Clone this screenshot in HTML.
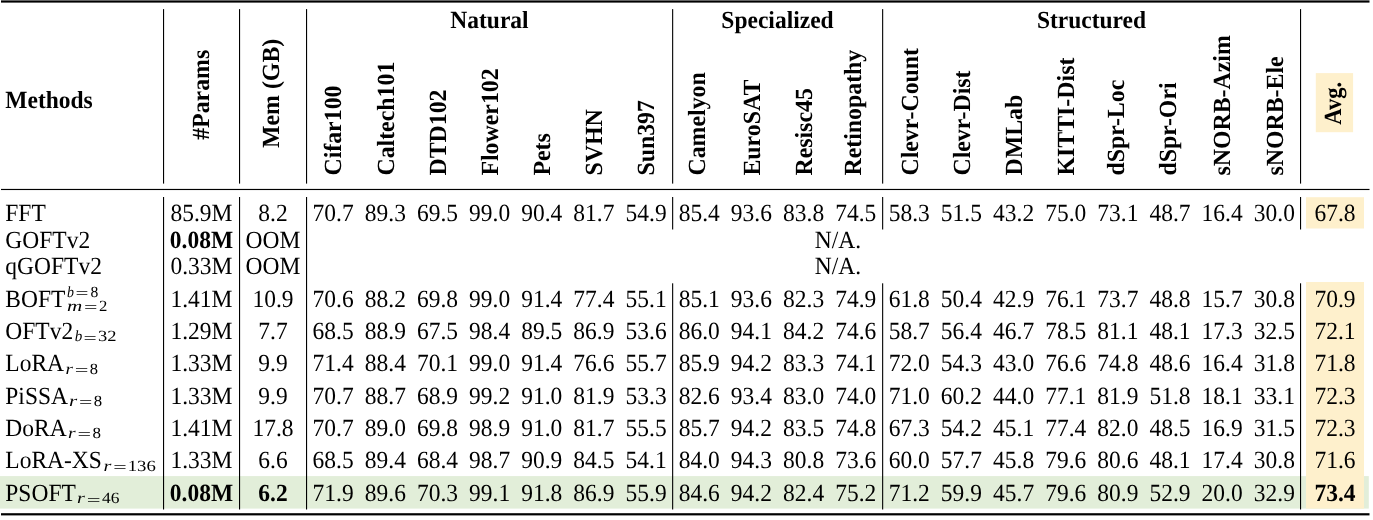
<!DOCTYPE html>
<html><head><meta charset="utf-8"><style>
html,body{margin:0;padding:0;background:#fff;width:1373px;height:520px;overflow:hidden}
svg{display:block}
text{font-family:"Liberation Serif","Times New Roman",serif;font-size:23.5px;fill:#000;text-rendering:geometricPrecision}
</style></head><body>
<svg width="1373" height="520" viewBox="0 0 1373 520">
<rect x="0" y="476.1" width="1368.8" height="32.5" fill="#e2eed9"/>
<rect x="1315.8" y="73.1" width="37.3" height="59.1" fill="#fef0cc"/>
<rect x="1306" y="197.2" width="58" height="31.3" fill="#fef0cc"/>
<rect x="1306" y="282" width="58" height="226.6" fill="#fef0cc"/>
<rect x="1" y="0.4" width="1368.5" height="2.2" fill="#000"/>
<rect x="1" y="188.9" width="1368.5" height="1.15" fill="#000"/>
<rect x="1" y="513.2" width="1368.5" height="2.2" fill="#000"/>
<rect x="163.0" y="9.1" width="1.1" height="174.5" fill="#000"/>
<rect x="239.0" y="9.1" width="1.1" height="174.5" fill="#000"/>
<rect x="306.0" y="9.1" width="1.1" height="174.5" fill="#000"/>
<rect x="672.1" y="9.1" width="1.1" height="174.5" fill="#000"/>
<rect x="882.1" y="9.1" width="1.1" height="174.5" fill="#000"/>
<rect x="1300.0" y="9.1" width="1.1" height="174.5" fill="#000"/>
<rect x="163.0" y="197.0" width="1.1" height="312.5" fill="#000"/>
<rect x="239.0" y="197.0" width="1.1" height="312.5" fill="#000"/>
<rect x="306.0" y="197.0" width="1.1" height="312.5" fill="#000"/>
<rect x="672.1" y="197.0" width="1.1" height="32.5" fill="#000"/>
<rect x="672.1" y="283.3" width="1.1" height="226.2" fill="#000"/>
<rect x="882.1" y="197.0" width="1.1" height="32.5" fill="#000"/>
<rect x="882.1" y="283.3" width="1.1" height="226.2" fill="#000"/>
<rect x="1300.0" y="197.0" width="1.1" height="32.5" fill="#000"/>
<rect x="1300.0" y="283.3" width="1.1" height="226.2" fill="#000"/>
<text x="5.3" y="108" font-weight="bold" transform="matrix(1 0 0 1.05 0 -5.400)">Methods</text>
<text x="489.5" y="27.7" text-anchor="middle" font-weight="bold" transform="matrix(1 0 0 1.05 0 -1.385)">Natural</text>
<text x="777.5" y="27.7" text-anchor="middle" font-weight="bold" transform="matrix(1 0 0 1.05 0 -1.385)">Specialized</text>
<text x="1091.5" y="27.7" text-anchor="middle" font-weight="bold" transform="matrix(1 0 0 1.05 0 -1.385)">Structured</text>
<text transform="translate(341.48,175.6) rotate(-90) scale(1.015,1.05)" font-weight="bold" text-anchor="start">Cifar100</text>
<text transform="translate(393.63,175.6) rotate(-90) scale(1.015,1.05)" font-weight="bold" text-anchor="start">Caltech101</text>
<text transform="translate(445.78,175.6) rotate(-90) scale(1.015,1.05)" font-weight="bold" text-anchor="start">DTD102</text>
<text transform="translate(497.93,175.6) rotate(-90) scale(1.015,1.05)" font-weight="bold" text-anchor="start">Flower102</text>
<text transform="translate(550.08,175.6) rotate(-90) scale(1.015,1.05)" font-weight="bold" text-anchor="start">Pets</text>
<text transform="translate(602.23,175.6) rotate(-90) scale(1.015,1.05)" font-weight="bold" text-anchor="start">SVHN</text>
<text transform="translate(654.38,175.6) rotate(-90) scale(1.015,1.05)" font-weight="bold" text-anchor="start">Sun397</text>
<text transform="translate(705.03,175.6) rotate(-90) scale(1.015,1.05)" font-weight="bold" text-anchor="start">Camelyon</text>
<text transform="translate(759.73,175.6) rotate(-90) scale(1.015,1.05)" font-weight="bold" text-anchor="start">EuroSAT</text>
<text transform="translate(811.88,175.6) rotate(-90) scale(1.015,1.05)" font-weight="bold" text-anchor="start">Resisc45</text>
<text transform="translate(861.48,175.6) rotate(-90) scale(1.015,1.05)" font-weight="bold" text-anchor="start">Retinopathy</text>
<text transform="translate(917.58,175.6) rotate(-90) scale(1.015,1.05)" font-weight="bold" text-anchor="start">Clevr-Count</text>
<text transform="translate(969.73,175.6) rotate(-90) scale(1.015,1.05)" font-weight="bold" text-anchor="start">Clevr-Dist</text>
<text transform="translate(1021.88,175.6) rotate(-90) scale(1.015,1.05)" font-weight="bold" text-anchor="start">DMLab</text>
<text transform="translate(1074.03,175.6) rotate(-90) scale(1.015,1.05)" font-weight="bold" text-anchor="start">KITTI-Dist</text>
<text transform="translate(1123.63,175.6) rotate(-90) scale(1.015,1.05)" font-weight="bold" text-anchor="start">dSpr-Loc</text>
<text transform="translate(1175.78,175.6) rotate(-90) scale(1.015,1.05)" font-weight="bold" text-anchor="start">dSpr-Ori</text>
<text transform="translate(1230.48,175.6) rotate(-90) scale(1.015,1.05)" font-weight="bold" text-anchor="start">sNORB-Azim</text>
<text transform="translate(1282.63,175.6) rotate(-90) scale(1.015,1.05)" font-weight="bold" text-anchor="start">sNORB-Ele</text>
<text transform="translate(209.41,94.8) rotate(-90) scale(1.015,1.05)" font-weight="bold" text-anchor="middle">#Params</text>
<text transform="translate(278.76,93.4) rotate(-90) scale(1.015,1.05)" font-weight="bold" text-anchor="middle">Mem (GB)</text>
<text transform="translate(1340.59,103.3) rotate(-90) scale(0.958,1.05)" font-weight="bold" text-anchor="middle">Avg.</text>
<text x="5.3" y="221.4" transform="matrix(1 0 0 1.05 0 -11.070)">FFT</text>
<text x="201.5" y="221.4" text-anchor="middle" transform="matrix(1 0 0 1.05 0 -11.070)">85.9M</text>
<text x="273" y="221.4" text-anchor="middle" transform="matrix(1 0 0 1.05 0 -11.070)">8.2</text>
<text x="333.175" y="221.4" text-anchor="middle" transform="matrix(1 0 0 1.05 0 -11.070)">70.7</text>
<text x="385.32500000000005" y="221.4" text-anchor="middle" transform="matrix(1 0 0 1.05 0 -11.070)">89.3</text>
<text x="437.475" y="221.4" text-anchor="middle" transform="matrix(1 0 0 1.05 0 -11.070)">69.5</text>
<text x="489.625" y="221.4" text-anchor="middle" transform="matrix(1 0 0 1.05 0 -11.070)">99.0</text>
<text x="541.775" y="221.4" text-anchor="middle" transform="matrix(1 0 0 1.05 0 -11.070)">90.4</text>
<text x="593.925" y="221.4" text-anchor="middle" transform="matrix(1 0 0 1.05 0 -11.070)">81.7</text>
<text x="646.075" y="221.4" text-anchor="middle" transform="matrix(1 0 0 1.05 0 -11.070)">54.9</text>
<text x="699.2750000000001" y="221.4" text-anchor="middle" transform="matrix(1 0 0 1.05 0 -11.070)">85.4</text>
<text x="751.4250000000001" y="221.4" text-anchor="middle" transform="matrix(1 0 0 1.05 0 -11.070)">93.6</text>
<text x="803.575" y="221.4" text-anchor="middle" transform="matrix(1 0 0 1.05 0 -11.070)">83.8</text>
<text x="855.725" y="221.4" text-anchor="middle" transform="matrix(1 0 0 1.05 0 -11.070)">74.5</text>
<text x="909.2750000000001" y="221.4" text-anchor="middle" transform="matrix(1 0 0 1.05 0 -11.070)">58.3</text>
<text x="961.4250000000001" y="221.4" text-anchor="middle" transform="matrix(1 0 0 1.05 0 -11.070)">51.5</text>
<text x="1013.575" y="221.4" text-anchor="middle" transform="matrix(1 0 0 1.05 0 -11.070)">43.2</text>
<text x="1065.7250000000001" y="221.4" text-anchor="middle" transform="matrix(1 0 0 1.05 0 -11.070)">75.0</text>
<text x="1117.875" y="221.4" text-anchor="middle" transform="matrix(1 0 0 1.05 0 -11.070)">73.1</text>
<text x="1170.025" y="221.4" text-anchor="middle" transform="matrix(1 0 0 1.05 0 -11.070)">48.7</text>
<text x="1222.175" y="221.4" text-anchor="middle" transform="matrix(1 0 0 1.05 0 -11.070)">16.4</text>
<text x="1274.325" y="221.4" text-anchor="middle" transform="matrix(1 0 0 1.05 0 -11.070)">30.0</text>
<text x="1335.0" y="221.4" text-anchor="middle" transform="matrix(1 0 0 1.05 0 -11.070)">67.8</text>
<text x="5.3" y="248.2" transform="matrix(1 0 0 1.05 0 -12.410)">GOFTv2</text>
<text x="201.5" y="248.2" text-anchor="middle" font-weight="bold" transform="matrix(1 0 0 1.05 0 -12.410)">0.08M</text>
<text x="273" y="248.2" text-anchor="middle" transform="matrix(1 0 0 1.05 0 -12.410)">OOM</text>
<text x="838" y="248.2" text-anchor="middle" transform="matrix(1 0 0 1.05 0 -12.410)">N/A.</text>
<text x="5.3" y="274.3" transform="matrix(1 0 0 1.05 0 -13.715)">qGOFTv2</text>
<text x="201.5" y="274.3" text-anchor="middle" transform="matrix(1 0 0 1.05 0 -13.715)">0.33M</text>
<text x="273" y="274.3" text-anchor="middle" transform="matrix(1 0 0 1.05 0 -13.715)">OOM</text>
<text x="838" y="274.3" text-anchor="middle" transform="matrix(1 0 0 1.05 0 -13.715)">N/A.</text>
<text x="5.3" y="306.8" transform="matrix(1 0 0 1.05 0 -15.340)">BOFT</text>
<text x="66.99" y="297.0" textLength="6.93" lengthAdjust="spacingAndGlyphs" style="font-size:16.5px;font-style:italic" transform="matrix(1 0 0 0.945 0 16.335)">b</text>
<text x="75.55" y="297.8" textLength="12.97" lengthAdjust="spacingAndGlyphs" style="font-size:16.5px" transform="matrix(1 0 0 0.945 0 16.379)">=</text>
<text x="90.41" y="297.0" textLength="7.79" lengthAdjust="spacingAndGlyphs" style="font-size:16.5px" transform="matrix(1 0 0 0.945 0 16.335)">8</text>
<text x="67.04" y="311.0" textLength="15.25" lengthAdjust="spacingAndGlyphs" style="font-size:16.5px;font-style:italic" transform="matrix(1 0 0 0.945 0 17.105)">m</text>
<text x="84.01" y="311.8" textLength="13.45" lengthAdjust="spacingAndGlyphs" style="font-size:16.5px" transform="matrix(1 0 0 0.945 0 17.149)">=</text>
<text x="99.07" y="311.0" textLength="8.36" lengthAdjust="spacingAndGlyphs" style="font-size:16.5px" transform="matrix(1 0 0 0.945 0 17.105)">2</text>
<text x="201.5" y="306.8" text-anchor="middle" transform="matrix(1 0 0 1.05 0 -15.340)">1.41M</text>
<text x="273" y="306.8" text-anchor="middle" transform="matrix(1 0 0 1.05 0 -15.340)">10.9</text>
<text x="333.175" y="306.8" text-anchor="middle" transform="matrix(1 0 0 1.05 0 -15.340)">70.6</text>
<text x="385.32500000000005" y="306.8" text-anchor="middle" transform="matrix(1 0 0 1.05 0 -15.340)">88.2</text>
<text x="437.475" y="306.8" text-anchor="middle" transform="matrix(1 0 0 1.05 0 -15.340)">69.8</text>
<text x="489.625" y="306.8" text-anchor="middle" transform="matrix(1 0 0 1.05 0 -15.340)">99.0</text>
<text x="541.775" y="306.8" text-anchor="middle" transform="matrix(1 0 0 1.05 0 -15.340)">91.4</text>
<text x="593.925" y="306.8" text-anchor="middle" transform="matrix(1 0 0 1.05 0 -15.340)">77.4</text>
<text x="646.075" y="306.8" text-anchor="middle" transform="matrix(1 0 0 1.05 0 -15.340)">55.1</text>
<text x="699.2750000000001" y="306.8" text-anchor="middle" transform="matrix(1 0 0 1.05 0 -15.340)">85.1</text>
<text x="751.4250000000001" y="306.8" text-anchor="middle" transform="matrix(1 0 0 1.05 0 -15.340)">93.6</text>
<text x="803.575" y="306.8" text-anchor="middle" transform="matrix(1 0 0 1.05 0 -15.340)">82.3</text>
<text x="855.725" y="306.8" text-anchor="middle" transform="matrix(1 0 0 1.05 0 -15.340)">74.9</text>
<text x="909.2750000000001" y="306.8" text-anchor="middle" transform="matrix(1 0 0 1.05 0 -15.340)">61.8</text>
<text x="961.4250000000001" y="306.8" text-anchor="middle" transform="matrix(1 0 0 1.05 0 -15.340)">50.4</text>
<text x="1013.575" y="306.8" text-anchor="middle" transform="matrix(1 0 0 1.05 0 -15.340)">42.9</text>
<text x="1065.7250000000001" y="306.8" text-anchor="middle" transform="matrix(1 0 0 1.05 0 -15.340)">76.1</text>
<text x="1117.875" y="306.8" text-anchor="middle" transform="matrix(1 0 0 1.05 0 -15.340)">73.7</text>
<text x="1170.025" y="306.8" text-anchor="middle" transform="matrix(1 0 0 1.05 0 -15.340)">48.8</text>
<text x="1222.175" y="306.8" text-anchor="middle" transform="matrix(1 0 0 1.05 0 -15.340)">15.7</text>
<text x="1274.325" y="306.8" text-anchor="middle" transform="matrix(1 0 0 1.05 0 -15.340)">30.8</text>
<text x="1335.0" y="306.8" text-anchor="middle" transform="matrix(1 0 0 1.05 0 -15.340)">70.9</text>
<text x="5.3" y="339.1" transform="matrix(1 0 0 1.05 0 -16.955)">OFTv2</text>
<text x="74.64" y="341.4" textLength="7.51" lengthAdjust="spacingAndGlyphs" style="font-size:16.5px;font-style:italic" transform="matrix(1 0 0 0.945 0 18.777)">b</text>
<text x="83.53" y="342.6" textLength="13.21" lengthAdjust="spacingAndGlyphs" style="font-size:16.5px" transform="matrix(1 0 0 0.945 0 18.843)">=</text>
<text x="98.01" y="341.4" textLength="18.51" lengthAdjust="spacingAndGlyphs" style="font-size:16.5px" transform="matrix(1 0 0 0.945 0 18.777)">32</text>
<text x="201.5" y="339.1" text-anchor="middle" transform="matrix(1 0 0 1.05 0 -16.955)">1.29M</text>
<text x="273" y="339.1" text-anchor="middle" transform="matrix(1 0 0 1.05 0 -16.955)">7.7</text>
<text x="333.175" y="339.1" text-anchor="middle" transform="matrix(1 0 0 1.05 0 -16.955)">68.5</text>
<text x="385.32500000000005" y="339.1" text-anchor="middle" transform="matrix(1 0 0 1.05 0 -16.955)">88.9</text>
<text x="437.475" y="339.1" text-anchor="middle" transform="matrix(1 0 0 1.05 0 -16.955)">67.5</text>
<text x="489.625" y="339.1" text-anchor="middle" transform="matrix(1 0 0 1.05 0 -16.955)">98.4</text>
<text x="541.775" y="339.1" text-anchor="middle" transform="matrix(1 0 0 1.05 0 -16.955)">89.5</text>
<text x="593.925" y="339.1" text-anchor="middle" transform="matrix(1 0 0 1.05 0 -16.955)">86.9</text>
<text x="646.075" y="339.1" text-anchor="middle" transform="matrix(1 0 0 1.05 0 -16.955)">53.6</text>
<text x="699.2750000000001" y="339.1" text-anchor="middle" transform="matrix(1 0 0 1.05 0 -16.955)">86.0</text>
<text x="751.4250000000001" y="339.1" text-anchor="middle" transform="matrix(1 0 0 1.05 0 -16.955)">94.1</text>
<text x="803.575" y="339.1" text-anchor="middle" transform="matrix(1 0 0 1.05 0 -16.955)">84.2</text>
<text x="855.725" y="339.1" text-anchor="middle" transform="matrix(1 0 0 1.05 0 -16.955)">74.6</text>
<text x="909.2750000000001" y="339.1" text-anchor="middle" transform="matrix(1 0 0 1.05 0 -16.955)">58.7</text>
<text x="961.4250000000001" y="339.1" text-anchor="middle" transform="matrix(1 0 0 1.05 0 -16.955)">56.4</text>
<text x="1013.575" y="339.1" text-anchor="middle" transform="matrix(1 0 0 1.05 0 -16.955)">46.7</text>
<text x="1065.7250000000001" y="339.1" text-anchor="middle" transform="matrix(1 0 0 1.05 0 -16.955)">78.5</text>
<text x="1117.875" y="339.1" text-anchor="middle" transform="matrix(1 0 0 1.05 0 -16.955)">81.1</text>
<text x="1170.025" y="339.1" text-anchor="middle" transform="matrix(1 0 0 1.05 0 -16.955)">48.1</text>
<text x="1222.175" y="339.1" text-anchor="middle" transform="matrix(1 0 0 1.05 0 -16.955)">17.3</text>
<text x="1274.325" y="339.1" text-anchor="middle" transform="matrix(1 0 0 1.05 0 -16.955)">32.5</text>
<text x="1335.0" y="339.1" text-anchor="middle" transform="matrix(1 0 0 1.05 0 -16.955)">72.1</text>
<text x="5.3" y="371.3" transform="matrix(1 0 0 1.05 0 -18.565)">LoRA</text>
<text x="65.53" y="373.6" textLength="7.42" lengthAdjust="spacingAndGlyphs" style="font-size:16.5px;font-style:italic" transform="matrix(1 0 0 0.945 0 20.548)">r</text>
<text x="74.89" y="374.8" textLength="13.70" lengthAdjust="spacingAndGlyphs" style="font-size:16.5px" transform="matrix(1 0 0 0.945 0 20.614)">=</text>
<text x="89.87" y="373.6" textLength="8.26" lengthAdjust="spacingAndGlyphs" style="font-size:16.5px" transform="matrix(1 0 0 0.945 0 20.548)">8</text>
<text x="201.5" y="371.3" text-anchor="middle" transform="matrix(1 0 0 1.05 0 -18.565)">1.33M</text>
<text x="273" y="371.3" text-anchor="middle" transform="matrix(1 0 0 1.05 0 -18.565)">9.9</text>
<text x="333.175" y="371.3" text-anchor="middle" transform="matrix(1 0 0 1.05 0 -18.565)">71.4</text>
<text x="385.32500000000005" y="371.3" text-anchor="middle" transform="matrix(1 0 0 1.05 0 -18.565)">88.4</text>
<text x="437.475" y="371.3" text-anchor="middle" transform="matrix(1 0 0 1.05 0 -18.565)">70.1</text>
<text x="489.625" y="371.3" text-anchor="middle" transform="matrix(1 0 0 1.05 0 -18.565)">99.0</text>
<text x="541.775" y="371.3" text-anchor="middle" transform="matrix(1 0 0 1.05 0 -18.565)">91.4</text>
<text x="593.925" y="371.3" text-anchor="middle" transform="matrix(1 0 0 1.05 0 -18.565)">76.6</text>
<text x="646.075" y="371.3" text-anchor="middle" transform="matrix(1 0 0 1.05 0 -18.565)">55.7</text>
<text x="699.2750000000001" y="371.3" text-anchor="middle" transform="matrix(1 0 0 1.05 0 -18.565)">85.9</text>
<text x="751.4250000000001" y="371.3" text-anchor="middle" transform="matrix(1 0 0 1.05 0 -18.565)">94.2</text>
<text x="803.575" y="371.3" text-anchor="middle" transform="matrix(1 0 0 1.05 0 -18.565)">83.3</text>
<text x="855.725" y="371.3" text-anchor="middle" transform="matrix(1 0 0 1.05 0 -18.565)">74.1</text>
<text x="909.2750000000001" y="371.3" text-anchor="middle" transform="matrix(1 0 0 1.05 0 -18.565)">72.0</text>
<text x="961.4250000000001" y="371.3" text-anchor="middle" transform="matrix(1 0 0 1.05 0 -18.565)">54.3</text>
<text x="1013.575" y="371.3" text-anchor="middle" transform="matrix(1 0 0 1.05 0 -18.565)">43.0</text>
<text x="1065.7250000000001" y="371.3" text-anchor="middle" transform="matrix(1 0 0 1.05 0 -18.565)">76.6</text>
<text x="1117.875" y="371.3" text-anchor="middle" transform="matrix(1 0 0 1.05 0 -18.565)">74.8</text>
<text x="1170.025" y="371.3" text-anchor="middle" transform="matrix(1 0 0 1.05 0 -18.565)">48.6</text>
<text x="1222.175" y="371.3" text-anchor="middle" transform="matrix(1 0 0 1.05 0 -18.565)">16.4</text>
<text x="1274.325" y="371.3" text-anchor="middle" transform="matrix(1 0 0 1.05 0 -18.565)">31.8</text>
<text x="1335.0" y="371.3" text-anchor="middle" transform="matrix(1 0 0 1.05 0 -18.565)">71.8</text>
<text x="5.3" y="403.7" transform="matrix(1 0 0 1.05 0 -20.185)">PiSSA</text>
<text x="69.05" y="406.0" textLength="8.19" lengthAdjust="spacingAndGlyphs" style="font-size:16.5px;font-style:italic" transform="matrix(1 0 0 0.945 0 22.330)">r</text>
<text x="79.02" y="407.2" textLength="13.33" lengthAdjust="spacingAndGlyphs" style="font-size:16.5px" transform="matrix(1 0 0 0.945 0 22.396)">=</text>
<text x="93.76" y="406.0" textLength="8.38" lengthAdjust="spacingAndGlyphs" style="font-size:16.5px" transform="matrix(1 0 0 0.945 0 22.330)">8</text>
<text x="201.5" y="403.7" text-anchor="middle" transform="matrix(1 0 0 1.05 0 -20.185)">1.33M</text>
<text x="273" y="403.7" text-anchor="middle" transform="matrix(1 0 0 1.05 0 -20.185)">9.9</text>
<text x="333.175" y="403.7" text-anchor="middle" transform="matrix(1 0 0 1.05 0 -20.185)">70.7</text>
<text x="385.32500000000005" y="403.7" text-anchor="middle" transform="matrix(1 0 0 1.05 0 -20.185)">88.7</text>
<text x="437.475" y="403.7" text-anchor="middle" transform="matrix(1 0 0 1.05 0 -20.185)">68.9</text>
<text x="489.625" y="403.7" text-anchor="middle" transform="matrix(1 0 0 1.05 0 -20.185)">99.2</text>
<text x="541.775" y="403.7" text-anchor="middle" transform="matrix(1 0 0 1.05 0 -20.185)">91.0</text>
<text x="593.925" y="403.7" text-anchor="middle" transform="matrix(1 0 0 1.05 0 -20.185)">81.9</text>
<text x="646.075" y="403.7" text-anchor="middle" transform="matrix(1 0 0 1.05 0 -20.185)">53.3</text>
<text x="699.2750000000001" y="403.7" text-anchor="middle" transform="matrix(1 0 0 1.05 0 -20.185)">82.6</text>
<text x="751.4250000000001" y="403.7" text-anchor="middle" transform="matrix(1 0 0 1.05 0 -20.185)">93.4</text>
<text x="803.575" y="403.7" text-anchor="middle" transform="matrix(1 0 0 1.05 0 -20.185)">83.0</text>
<text x="855.725" y="403.7" text-anchor="middle" transform="matrix(1 0 0 1.05 0 -20.185)">74.0</text>
<text x="909.2750000000001" y="403.7" text-anchor="middle" transform="matrix(1 0 0 1.05 0 -20.185)">71.0</text>
<text x="961.4250000000001" y="403.7" text-anchor="middle" transform="matrix(1 0 0 1.05 0 -20.185)">60.2</text>
<text x="1013.575" y="403.7" text-anchor="middle" transform="matrix(1 0 0 1.05 0 -20.185)">44.0</text>
<text x="1065.7250000000001" y="403.7" text-anchor="middle" transform="matrix(1 0 0 1.05 0 -20.185)">77.1</text>
<text x="1117.875" y="403.7" text-anchor="middle" transform="matrix(1 0 0 1.05 0 -20.185)">81.9</text>
<text x="1170.025" y="403.7" text-anchor="middle" transform="matrix(1 0 0 1.05 0 -20.185)">51.8</text>
<text x="1222.175" y="403.7" text-anchor="middle" transform="matrix(1 0 0 1.05 0 -20.185)">18.1</text>
<text x="1274.325" y="403.7" text-anchor="middle" transform="matrix(1 0 0 1.05 0 -20.185)">33.1</text>
<text x="1335.0" y="403.7" text-anchor="middle" transform="matrix(1 0 0 1.05 0 -20.185)">72.3</text>
<text x="5.3" y="436.0" transform="matrix(1 0 0 1.05 0 -21.800)">DoRA</text>
<text x="67.90" y="438.2" textLength="7.64" lengthAdjust="spacingAndGlyphs" style="font-size:16.5px;font-style:italic" transform="matrix(1 0 0 0.945 0 24.101)">r</text>
<text x="77.60" y="439.4" textLength="13.57" lengthAdjust="spacingAndGlyphs" style="font-size:16.5px" transform="matrix(1 0 0 0.945 0 24.167)">=</text>
<text x="92.55" y="438.2" textLength="8.49" lengthAdjust="spacingAndGlyphs" style="font-size:16.5px" transform="matrix(1 0 0 0.945 0 24.101)">8</text>
<text x="201.5" y="436.0" text-anchor="middle" transform="matrix(1 0 0 1.05 0 -21.800)">1.41M</text>
<text x="273" y="436.0" text-anchor="middle" transform="matrix(1 0 0 1.05 0 -21.800)">17.8</text>
<text x="333.175" y="436.0" text-anchor="middle" transform="matrix(1 0 0 1.05 0 -21.800)">70.7</text>
<text x="385.32500000000005" y="436.0" text-anchor="middle" transform="matrix(1 0 0 1.05 0 -21.800)">89.0</text>
<text x="437.475" y="436.0" text-anchor="middle" transform="matrix(1 0 0 1.05 0 -21.800)">69.8</text>
<text x="489.625" y="436.0" text-anchor="middle" transform="matrix(1 0 0 1.05 0 -21.800)">98.9</text>
<text x="541.775" y="436.0" text-anchor="middle" transform="matrix(1 0 0 1.05 0 -21.800)">91.0</text>
<text x="593.925" y="436.0" text-anchor="middle" transform="matrix(1 0 0 1.05 0 -21.800)">81.7</text>
<text x="646.075" y="436.0" text-anchor="middle" transform="matrix(1 0 0 1.05 0 -21.800)">55.5</text>
<text x="699.2750000000001" y="436.0" text-anchor="middle" transform="matrix(1 0 0 1.05 0 -21.800)">85.7</text>
<text x="751.4250000000001" y="436.0" text-anchor="middle" transform="matrix(1 0 0 1.05 0 -21.800)">94.2</text>
<text x="803.575" y="436.0" text-anchor="middle" transform="matrix(1 0 0 1.05 0 -21.800)">83.5</text>
<text x="855.725" y="436.0" text-anchor="middle" transform="matrix(1 0 0 1.05 0 -21.800)">74.8</text>
<text x="909.2750000000001" y="436.0" text-anchor="middle" transform="matrix(1 0 0 1.05 0 -21.800)">67.3</text>
<text x="961.4250000000001" y="436.0" text-anchor="middle" transform="matrix(1 0 0 1.05 0 -21.800)">54.2</text>
<text x="1013.575" y="436.0" text-anchor="middle" transform="matrix(1 0 0 1.05 0 -21.800)">45.1</text>
<text x="1065.7250000000001" y="436.0" text-anchor="middle" transform="matrix(1 0 0 1.05 0 -21.800)">77.4</text>
<text x="1117.875" y="436.0" text-anchor="middle" transform="matrix(1 0 0 1.05 0 -21.800)">82.0</text>
<text x="1170.025" y="436.0" text-anchor="middle" transform="matrix(1 0 0 1.05 0 -21.800)">48.5</text>
<text x="1222.175" y="436.0" text-anchor="middle" transform="matrix(1 0 0 1.05 0 -21.800)">16.9</text>
<text x="1274.325" y="436.0" text-anchor="middle" transform="matrix(1 0 0 1.05 0 -21.800)">31.5</text>
<text x="1335.0" y="436.0" text-anchor="middle" transform="matrix(1 0 0 1.05 0 -21.800)">72.3</text>
<text x="5.3" y="468.0" transform="matrix(1 0 0 1.05 0 -23.400)">LoRA-XS</text>
<text x="103.48" y="471.0" textLength="7.86" lengthAdjust="spacingAndGlyphs" style="font-size:16.5px;font-style:italic" transform="matrix(1 0 0 0.945 0 25.905)">r</text>
<text x="113.31" y="472.2" textLength="13.45" lengthAdjust="spacingAndGlyphs" style="font-size:16.5px" transform="matrix(1 0 0 0.945 0 25.971)">=</text>
<text x="127.75" y="471.0" textLength="28.10" lengthAdjust="spacingAndGlyphs" style="font-size:16.5px" transform="matrix(1 0 0 0.945 0 25.905)">136</text>
<text x="201.5" y="468.0" text-anchor="middle" transform="matrix(1 0 0 1.05 0 -23.400)">1.33M</text>
<text x="273" y="468.0" text-anchor="middle" transform="matrix(1 0 0 1.05 0 -23.400)">6.6</text>
<text x="333.175" y="468.0" text-anchor="middle" transform="matrix(1 0 0 1.05 0 -23.400)">68.5</text>
<text x="385.32500000000005" y="468.0" text-anchor="middle" transform="matrix(1 0 0 1.05 0 -23.400)">89.4</text>
<text x="437.475" y="468.0" text-anchor="middle" transform="matrix(1 0 0 1.05 0 -23.400)">68.4</text>
<text x="489.625" y="468.0" text-anchor="middle" transform="matrix(1 0 0 1.05 0 -23.400)">98.7</text>
<text x="541.775" y="468.0" text-anchor="middle" transform="matrix(1 0 0 1.05 0 -23.400)">90.9</text>
<text x="593.925" y="468.0" text-anchor="middle" transform="matrix(1 0 0 1.05 0 -23.400)">84.5</text>
<text x="646.075" y="468.0" text-anchor="middle" transform="matrix(1 0 0 1.05 0 -23.400)">54.1</text>
<text x="699.2750000000001" y="468.0" text-anchor="middle" transform="matrix(1 0 0 1.05 0 -23.400)">84.0</text>
<text x="751.4250000000001" y="468.0" text-anchor="middle" transform="matrix(1 0 0 1.05 0 -23.400)">94.3</text>
<text x="803.575" y="468.0" text-anchor="middle" transform="matrix(1 0 0 1.05 0 -23.400)">80.8</text>
<text x="855.725" y="468.0" text-anchor="middle" transform="matrix(1 0 0 1.05 0 -23.400)">73.6</text>
<text x="909.2750000000001" y="468.0" text-anchor="middle" transform="matrix(1 0 0 1.05 0 -23.400)">60.0</text>
<text x="961.4250000000001" y="468.0" text-anchor="middle" transform="matrix(1 0 0 1.05 0 -23.400)">57.7</text>
<text x="1013.575" y="468.0" text-anchor="middle" transform="matrix(1 0 0 1.05 0 -23.400)">45.8</text>
<text x="1065.7250000000001" y="468.0" text-anchor="middle" transform="matrix(1 0 0 1.05 0 -23.400)">79.6</text>
<text x="1117.875" y="468.0" text-anchor="middle" transform="matrix(1 0 0 1.05 0 -23.400)">80.6</text>
<text x="1170.025" y="468.0" text-anchor="middle" transform="matrix(1 0 0 1.05 0 -23.400)">48.1</text>
<text x="1222.175" y="468.0" text-anchor="middle" transform="matrix(1 0 0 1.05 0 -23.400)">17.4</text>
<text x="1274.325" y="468.0" text-anchor="middle" transform="matrix(1 0 0 1.05 0 -23.400)">30.8</text>
<text x="1335.0" y="468.0" text-anchor="middle" transform="matrix(1 0 0 1.05 0 -23.400)">71.6</text>
<text x="5.3" y="501.0" transform="matrix(1 0 0 1.05 0 -25.050)">PSOFT</text>
<text x="76.98" y="503.3" textLength="7.86" lengthAdjust="spacingAndGlyphs" style="font-size:16.5px;font-style:italic" transform="matrix(1 0 0 0.945 0 27.682)">r</text>
<text x="86.68" y="504.5" textLength="13.82" lengthAdjust="spacingAndGlyphs" style="font-size:16.5px" transform="matrix(1 0 0 0.945 0 27.748)">=</text>
<text x="101.96" y="503.3" textLength="17.46" lengthAdjust="spacingAndGlyphs" style="font-size:16.5px" transform="matrix(1 0 0 0.945 0 27.682)">46</text>
<text x="201.5" y="501.0" text-anchor="middle" font-weight="bold" transform="matrix(1 0 0 1.05 0 -25.050)">0.08M</text>
<text x="273" y="501.0" text-anchor="middle" font-weight="bold" transform="matrix(1 0 0 1.05 0 -25.050)">6.2</text>
<text x="333.175" y="501.0" text-anchor="middle" transform="matrix(1 0 0 1.05 0 -25.050)">71.9</text>
<text x="385.32500000000005" y="501.0" text-anchor="middle" transform="matrix(1 0 0 1.05 0 -25.050)">89.6</text>
<text x="437.475" y="501.0" text-anchor="middle" transform="matrix(1 0 0 1.05 0 -25.050)">70.3</text>
<text x="489.625" y="501.0" text-anchor="middle" transform="matrix(1 0 0 1.05 0 -25.050)">99.1</text>
<text x="541.775" y="501.0" text-anchor="middle" transform="matrix(1 0 0 1.05 0 -25.050)">91.8</text>
<text x="593.925" y="501.0" text-anchor="middle" transform="matrix(1 0 0 1.05 0 -25.050)">86.9</text>
<text x="646.075" y="501.0" text-anchor="middle" transform="matrix(1 0 0 1.05 0 -25.050)">55.9</text>
<text x="699.2750000000001" y="501.0" text-anchor="middle" transform="matrix(1 0 0 1.05 0 -25.050)">84.6</text>
<text x="751.4250000000001" y="501.0" text-anchor="middle" transform="matrix(1 0 0 1.05 0 -25.050)">94.2</text>
<text x="803.575" y="501.0" text-anchor="middle" transform="matrix(1 0 0 1.05 0 -25.050)">82.4</text>
<text x="855.725" y="501.0" text-anchor="middle" transform="matrix(1 0 0 1.05 0 -25.050)">75.2</text>
<text x="909.2750000000001" y="501.0" text-anchor="middle" transform="matrix(1 0 0 1.05 0 -25.050)">71.2</text>
<text x="961.4250000000001" y="501.0" text-anchor="middle" transform="matrix(1 0 0 1.05 0 -25.050)">59.9</text>
<text x="1013.575" y="501.0" text-anchor="middle" transform="matrix(1 0 0 1.05 0 -25.050)">45.7</text>
<text x="1065.7250000000001" y="501.0" text-anchor="middle" transform="matrix(1 0 0 1.05 0 -25.050)">79.6</text>
<text x="1117.875" y="501.0" text-anchor="middle" transform="matrix(1 0 0 1.05 0 -25.050)">80.9</text>
<text x="1170.025" y="501.0" text-anchor="middle" transform="matrix(1 0 0 1.05 0 -25.050)">52.9</text>
<text x="1222.175" y="501.0" text-anchor="middle" transform="matrix(1 0 0 1.05 0 -25.050)">20.0</text>
<text x="1274.325" y="501.0" text-anchor="middle" transform="matrix(1 0 0 1.05 0 -25.050)">32.9</text>
<text x="1335.0" y="501.0" text-anchor="middle" font-weight="bold" transform="matrix(1 0 0 1.05 0 -25.050)">73.4</text>
</svg>
</body></html>
